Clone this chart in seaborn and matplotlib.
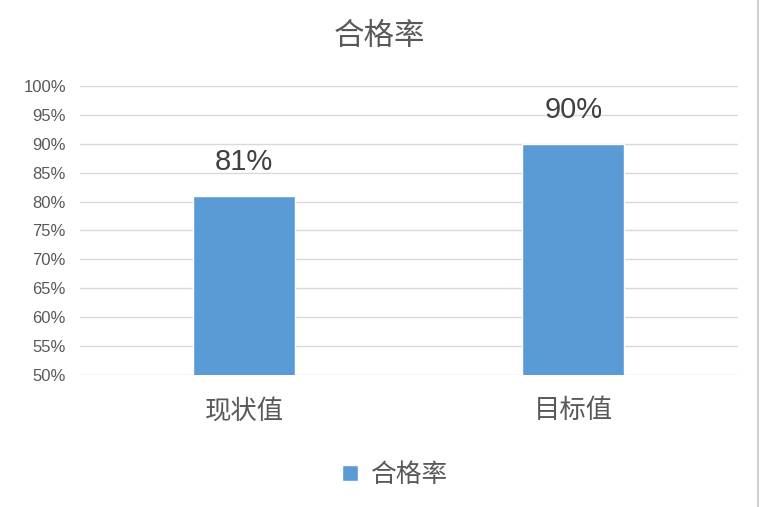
import numpy as np
import pandas as pd
import matplotlib
matplotlib.use('Agg')
import matplotlib.pyplot as plt
import seaborn as sns
from matplotlib.lines import Line2D

# Données
categories = ['现状值', '目标值']
values = [0.81, 0.90]
series_name = '合格率'
y_ticks = [0.50, 0.55, 0.60, 0.65, 0.70, 0.75, 0.80, 0.85, 0.90, 0.95, 1.00]

df = pd.DataFrame({'cat': categories, 'val': values, 'serie': [series_name] * len(categories)})

sns.set_theme(style='white')
plt.rcParams['font.family'] = ['Liberation Sans', 'Noto Sans CJK SC', 'DejaVu Sans']
txt = '#595959'

fig = plt.figure(figsize=(7.6, 5.07), dpi=100)
ax = fig.add_axes([0.105, 0.2604, 0.866, 0.57])

sns.barplot(data=df, x='cat', y='val', hue='serie', palette=['#5B9BD5'],
            saturation=1, dodge=False, width=0.31, ax=ax, legend=True)

ax.set_ylim(0.5, 1.0)
ax.set_yticks(y_ticks)
ax.set_yticklabels([f'{int(round(t * 100))}%' for t in y_ticks], fontsize=12, color=txt)
ax.tick_params(axis='y', length=0, pad=10)
ax.tick_params(axis='x', length=0, pad=17, labelsize=19, labelcolor=txt)
ax.set_xlabel('')
ax.set_ylabel('')
ax.yaxis.grid(True, color='#D9D9D9', linewidth=1)
ax.set_axisbelow(True)
sns.despine(ax=ax, left=True, bottom=True, top=True, right=True)

for cont in ax.containers:
    ax.bar_label(cont, labels=[f'{v:.0%}' for v in cont.datavalues],
                 padding=14, fontsize=21, color='#404040')

handles, labels = ax.get_legend_handles_labels()
ax.get_legend().remove()
fig.legend(handles, labels, loc='center', bbox_to_anchor=(395 / 760, 1 - 475 / 507),
           frameon=False, fontsize=18.5, labelcolor=txt, handlelength=0.6,
           handleheight=0.6, handletextpad=0.5)

fig.text(0.5, 1 - 37 / 507, series_name, ha='center', va='center', fontsize=22, color=txt)

# bord droit gris
fig.add_artist(Line2D([758 / 760, 758 / 760], [0, 1], color='#D0D0D0', linewidth=1.5))

fig.savefig('out.png', dpi=100)
